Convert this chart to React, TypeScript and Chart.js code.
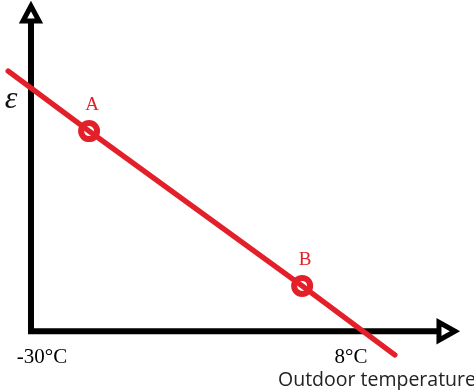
import React, { useEffect, useRef } from "react";
import { Chart, registerables } from "chart.js";
Chart.register(...registerables);

// Scale ranges (temperature in °C, efficiency ε in arbitrary units)
const tempRange = [-33.68, 22.61];
const effRange = [-0.2, 1.1];

// Red efficiency line (endpoints + points A and B)
const lineTemps = [-32.7, -23.1, 2.2, 13.2];
const lineEff = [0.863, 0.663, 0.147, -0.083];
const pointLabels = ["", "A", "B", ""];
const pointSizes = [0, 8, 8, 0];

// Axis ticks and titles
const tickTemps = [-30, 8];
const tickLabels = ["-30°C", "8°C"];
const xAxisTitle = "Outdoor temperature";
const yAxisTitle = "ε";
const axisOrigin = [-30, -0.004];
const axisEnds = [20.35, 1.08];

const RED = "#e3202a";

const drawPlugin = {
  id: "sketchAxes",
  beforeDatasetsDraw(chart: any) {
    const { ctx, scales } = chart;
    const x = scales.x, y = scales.y;
    const ox = x.getPixelForValue(axisOrigin[0]);
    const oy = y.getPixelForValue(axisOrigin[1]);
    const tx = x.getPixelForValue(axisEnds[0]);
    const ty = y.getPixelForValue(axisEnds[1]);
    ctx.save();
    ctx.strokeStyle = "#000";
    ctx.lineWidth = 6;
    ctx.lineCap = "butt";
    ctx.lineJoin = "miter";
    ctx.beginPath();
    ctx.moveTo(ox, ty + 15);
    ctx.lineTo(ox, oy);
    ctx.lineTo(tx - 16, oy);
    ctx.stroke();
    ctx.lineWidth = 5;
    ctx.fillStyle = "#fff";
    // y arrow
    ctx.beginPath();
    ctx.moveTo(ox, ty);
    ctx.lineTo(ox - 8, ty + 15);
    ctx.lineTo(ox + 8, ty + 15);
    ctx.closePath();
    ctx.fill();
    ctx.stroke();
    // x arrow
    ctx.beginPath();
    ctx.moveTo(tx, oy);
    ctx.lineTo(tx - 16, oy - 9);
    ctx.lineTo(tx - 16, oy + 9);
    ctx.closePath();
    ctx.fill();
    ctx.stroke();
    ctx.restore();
  },
  afterDatasetsDraw(chart: any) {
    const { ctx, scales } = chart;
    const x = scales.x, y = scales.y;
    const oy = y.getPixelForValue(axisOrigin[1]);
    const ox = x.getPixelForValue(axisOrigin[0]);
    ctx.save();
    ctx.textAlign = "center";
    ctx.textBaseline = "middle";
    // point labels
    ctx.fillStyle = RED;
    ctx.font = '19px "Liberation Serif", serif';
    pointLabels.forEach((lab, i) => {
      if (!lab) return;
      const px = x.getPixelForValue(lineTemps[i]);
      const py = y.getPixelForValue(lineEff[i]);
      ctx.fillText(lab, px + 3, py - 26);
    });
    // ticks
    ctx.fillStyle = "#000";
    ctx.font = '21px "Liberation Serif", serif';
    tickLabels.forEach((lab, i) => {
      const px = x.getPixelForValue(tickTemps[i]);
      ctx.fillText(lab, px + (i === 0 ? 11 : 0), oy + 26);
    });
    // x title
    ctx.fillStyle = "#222";
    ctx.font = '19.5px "Open Sans", sans-serif';
    ctx.textAlign = "left";
    ctx.fillText(xAxisTitle, 278, oy + 49);
    // y title
    ctx.fillStyle = "#111";
    ctx.font = 'italic 32px "Liberation Serif", serif';
    ctx.textAlign = "center";
    ctx.fillText(yAxisTitle, ox - 20, y.getPixelForValue(0.767));
    ctx.restore();
  },
};

export default function App() {
  const ref = useRef<HTMLCanvasElement | null>(null);
  useEffect(() => {
    if (!ref.current) return;
    const chart = new Chart(ref.current, {
      type: "scatter",
      data: {
        datasets: [
          {
            data: lineTemps.map((t, i) => ({ x: t, y: lineEff[i] })),
            showLine: true,
            borderColor: RED,
            borderWidth: 5.5,
            borderCapStyle: "round",
            pointRadius: pointSizes,
            pointHoverRadius: pointSizes,
            pointBorderWidth: 6,
            pointBorderColor: RED,
            pointBackgroundColor: "rgba(0,0,0,0)",
            clip: false,
          } as any,
        ],
      },
      options: {
        animation: false,
        responsive: false,
        maintainAspectRatio: false,
        layout: { padding: 0 },
        plugins: { legend: { display: false }, tooltip: { enabled: false } },
        events: [],
        scales: {
          x: { type: "linear", display: false, min: tempRange[0], max: tempRange[1] },
          y: { type: "linear", display: false, min: effRange[0], max: effRange[1] },
        },
      },
      plugins: [drawPlugin],
    });
    return () => chart.destroy();
  }, []);
  return (
    <div style={{ position: "fixed", left: 0, top: 0, width: 474, height: 390, background: "#fff" }}>
      <canvas ref={ref} width={474} height={390} style={{ display: "block" }} />
    </div>
  );
}
